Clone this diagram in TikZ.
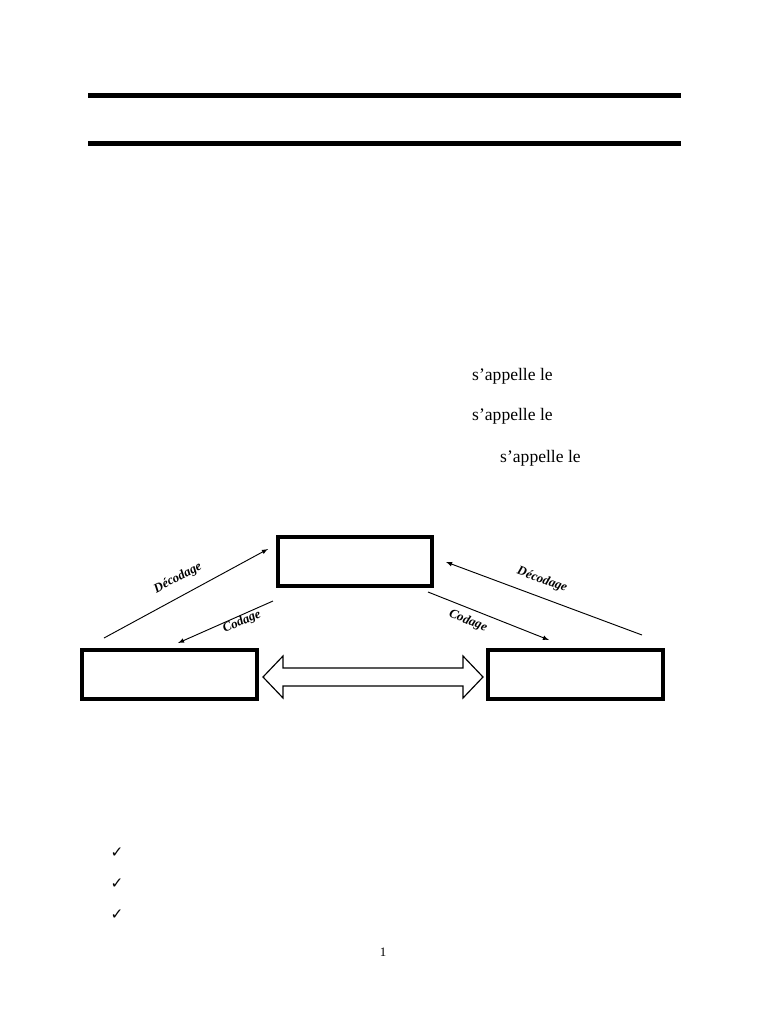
\documentclass[tikz,border=0pt]{standalone}
\usepackage{fontspec}
\setmainfont{Liberation Serif}
\newfontfamily\symfont{DejaVu Sans}
\usetikzlibrary{positioning}
\tikzset{
  box/.style={draw,line width=3pt,minimum width=175*0.03cm,minimum height=49*0.03cm,inner sep=0pt},
  lbl/.style={font=\bfseries\itshape\fontsize{11}{12}\selectfont,inner sep=0pt},
  arr/.style={-latex,line width=0.8pt},
  txt/.style={anchor=west,font=\fontsize{15}{17}\selectfont,inner sep=0pt}
}
\begin{document}
\begin{tikzpicture}[x=0.03cm,y=-0.03cm]
\useasboundingbox (0,0) rectangle (768,1024);
% rules
\fill (88,92.5) rectangle (681,97.5);
\fill (88,140.5) rectangle (681,145.5);
% text
\node[txt] (t1) at (472,376) {s’appelle le};
\node[txt] (t2) at (472,416) {s’appelle le};
\node[txt] (t3) at (500,458) {s’appelle le};
% boxes
\node[box,minimum width=154*0.03cm] (top) at (355,561.5) {};
\node[box] (left) at (169.5,674.5) {};
\node[box] (right) at (575.5,674.5) {};
% free ends
\coordinate (ld) at (104,638);
\coordinate (rd) at (642,635);
\draw[arr] (ld) -- (268,549);
\draw[arr] (273,601) -- (178,643);
\draw[arr] (428,592) -- (549,640);
\draw[arr] (rd) -- (446,562);
% labels
\node[lbl,rotate=28] (dl) at (178,578) {Décodage};
\node[lbl,rotate=24] (cl) at (242,622) {Codage};
\node[lbl,rotate=-22] (cr) at (468,621) {Codage};
\node[lbl,rotate=-20] (dr) at (542,580) {Décodage};
% double arrow
\draw[line width=1pt] (263,677) -- (283,656) -- (283,668) -- (463,668) -- (463,656)
  -- (483,677) -- (463,698) -- (463,686) -- (283,686) -- (283,698) -- cycle;
% checks
\foreach \y in {853,884,915}
  \node[font=\symfont\fontsize{13}{14}\selectfont] at (117,\y) {✓};
\node[font=\fontsize{11}{12}\selectfont] (pg) at (383,952) {1};
\end{tikzpicture}
\end{document}
